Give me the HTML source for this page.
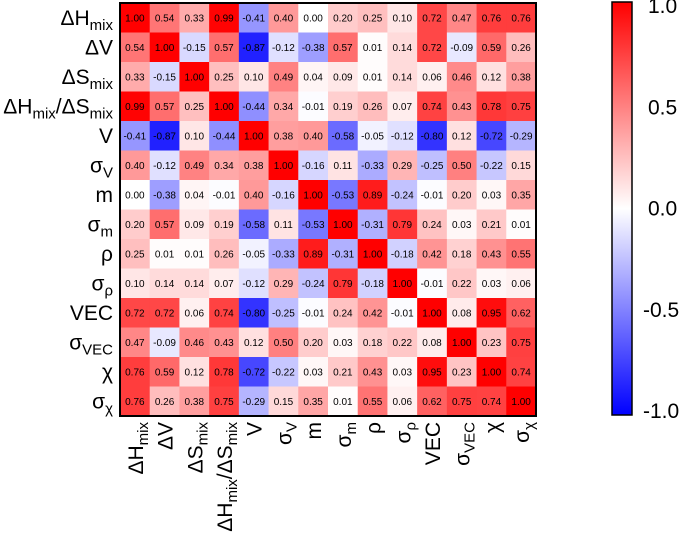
<!DOCTYPE html>
<html><head><meta charset="utf-8"><style>
body{margin:0;background:#fff;width:685px;height:537px;overflow:hidden}
text{font-family:"Liberation Sans",sans-serif;fill:#000}
</style></head><body>
<svg id="chart" width="685" height="537">
<defs><linearGradient id="cb" x1="0" y1="1" x2="0" y2="0">
<stop offset="0" stop-color="#0000ff"/><stop offset="0.5" stop-color="#ffffff"/><stop offset="1" stop-color="#ff0000"/>
</linearGradient></defs>
<g id="cells"></g><g id="ylabels"></g><g id="xlabels"></g>
<rect x="120" y="3" width="416" height="413" fill="none" stroke="#000" stroke-width="2"/>
<rect x="612" y="2" width="20" height="413" fill="url(#cb)" stroke="#000" stroke-width="1.5"/>
<g id="cbticks"></g>
</svg>
<script>
const labels=[["ΔH","mix"],["ΔV",""],["ΔS","mix"],["ΔH","mix","/ΔS","mix"],["V",""],["σ","V"],["m",""],["σ","m"],["ρ",""],["σ","ρ"],["VEC",""],["σ","VEC"],["χ",""],["σ","χ"]];
const labelNames=["dHmix","dV","dSmix","dHmix-dSmix","V","sigma-V","m","sigma-m","rho","sigma-rho","VEC","sigma-VEC","chi","sigma-chi"];
const row0=[1.00,0.54,0.33,0.99,-0.41,0.40,0.00,0.20,0.25,0.10,0.72,0.47,0.76,0.76];
const row1=[0.54,1.00,-0.15,0.57,-0.87,-0.12,-0.38,0.57,0.01,0.14,0.72,-0.09,0.59,0.26];
const row2=[0.33,-0.15,1.00,0.25,0.10,0.49,0.04,0.09,0.01,0.14,0.06,0.46,0.12,0.38];
const row3=[0.99,0.57,0.25,1.00,-0.44,0.34,-0.01,0.19,0.26,0.07,0.74,0.43,0.78,0.75];
const row4=[-0.41,-0.87,0.10,-0.44,1.00,0.38,0.40,-0.58,-0.05,-0.12,-0.80,0.12,-0.72,-0.29];
const row5=[0.40,-0.12,0.49,0.34,0.38,1.00,-0.16,0.11,-0.33,0.29,-0.25,0.50,-0.22,0.15];
const row6=[0.00,-0.38,0.04,-0.01,0.40,-0.16,1.00,-0.53,0.89,-0.24,-0.01,0.20,0.03,0.35];
const row7=[0.20,0.57,0.09,0.19,-0.58,0.11,-0.53,1.00,-0.31,0.79,0.24,0.03,0.21,0.01];
const row8=[0.25,0.01,0.01,0.26,-0.05,-0.33,0.89,-0.31,1.00,-0.18,0.42,0.18,0.43,0.55];
const row9=[0.10,0.14,0.14,0.07,-0.12,0.29,-0.24,0.79,-0.18,1.00,-0.01,0.22,0.03,0.06];
const row10=[0.72,0.72,0.06,0.74,-0.80,-0.25,-0.01,0.24,0.42,-0.01,1.00,0.08,0.95,0.62];
const row11=[0.47,-0.09,0.46,0.43,0.12,0.50,0.20,0.03,0.18,0.22,0.08,1.00,0.23,0.75];
const row12=[0.76,0.59,0.12,0.78,-0.72,-0.22,0.03,0.21,0.43,0.03,0.95,0.23,1.00,0.74];
const row13=[0.76,0.26,0.38,0.75,-0.29,0.15,0.35,0.01,0.55,0.06,0.62,0.75,0.74,1.00];
const matrix=[row0,row1,row2,row3,row4,row5,row6,row7,row8,row9,row10,row11,row12,row13];
const cbTicks=[1.0,0.5,0.0,-0.5,-1.0];

const NS="http://www.w3.org/2000/svg";
const X0=120,Y0=3,W=416,H=413,n=labels.length,cw=W/n,ch=H/n;
const xs=i=>X0+i*cw, ys=j=>Y0+j*ch;
const cbY=v=>5+(1-v)/2*405;
function color(v){
  if(v>=0){const c=Math.round(255*(1-v));return `rgb(255,${c},${c})`;}
  const c=Math.round(255*(1+v));return `rgb(${c},${c},255)`;
}
function mk(tag,attrs,parent){const e=document.createElementNS(NS,tag);for(const k in attrs)e.setAttribute(k,attrs[k]);parent.appendChild(e);return e;}
const cells=document.getElementById('cells');
matrix.forEach((row,j)=>row.forEach((v,i)=>{
  const r=mk('rect',{x:xs(i),y:ys(j),width:cw+0.5,height:ch+0.5,fill:color(v)},cells);
  
  
  const t=mk('text',{x:xs(i)+cw/2,y:ys(j)+ch/2+3.5,'text-anchor':'middle','font-size':'10'},cells);
  t.textContent=v.toFixed(2);
  
  
}));
function fill(t,l){
  for(let k=0;k<l.length;k++){
    if(!l[k])continue;
    const s=document.createElementNS(NS,'tspan');
    if(k%2==1){s.setAttribute('font-size','15');s.setAttribute('dy','5');}
    else if(k>0){s.setAttribute('dy','-5');}
    s.textContent=l[k];t.appendChild(s);
  }
}
const yl=document.getElementById('ylabels'),xl=document.getElementById('xlabels');
labels.forEach((l,k)=>{
  const t=mk('text',{x:113,y:ys(k)+ch/2+7,'text-anchor':'end','font-size':'21'},yl);
  fill(t,l);
  
  
  const cx=xs(k)+cw/2+8;
  const u=mk('text',{x:0,y:0,'text-anchor':'end','font-size':'21',transform:`translate(${cx},422) rotate(-90)`},xl);
  fill(u,l);
  
  
});
const cbt=document.getElementById('cbticks');
cbTicks.forEach(v=>{
  const t=mk('text',{x:v<0?643:648,y:cbY(v)+8,'font-size':'21'},cbt);
  t.textContent=v.toFixed(1);
  
  
});
</script>
</body></html>
